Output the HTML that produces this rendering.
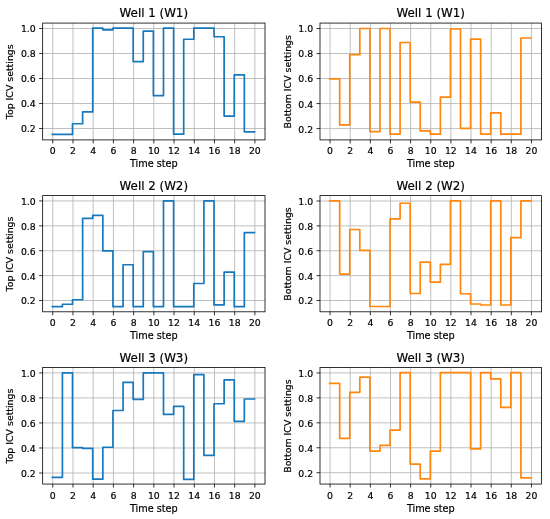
<!DOCTYPE html>
<html><head><meta charset="utf-8"><title>ICV settings</title>
<style>html,body{margin:0;padding:0;background:#fff;} svg{display:block;font-family:'DejaVu Sans', 'Liberation Sans', sans-serif;} text{stroke:#000;stroke-width:0.2px;}</style>
</head><body>
<svg width="550" height="519" viewBox="0 0 550 519"><rect width="550" height="519" fill="#fff"/><g stroke="#b0b0b0" stroke-width="0.8"><line x1="52.76" y1="23.07" x2="52.76" y2="139.9"/><line x1="72.97" y1="23.07" x2="72.97" y2="139.9"/><line x1="93.18" y1="23.07" x2="93.18" y2="139.9"/><line x1="113.4" y1="23.07" x2="113.4" y2="139.9"/><line x1="133.61" y1="23.07" x2="133.61" y2="139.9"/><line x1="153.82" y1="23.07" x2="153.82" y2="139.9"/><line x1="174.04" y1="23.07" x2="174.04" y2="139.9"/><line x1="194.25" y1="23.07" x2="194.25" y2="139.9"/><line x1="214.47" y1="23.07" x2="214.47" y2="139.9"/><line x1="234.68" y1="23.07" x2="234.68" y2="139.9"/><line x1="254.89" y1="23.07" x2="254.89" y2="139.9"/><line x1="42.65" y1="128.5" x2="265" y2="128.5"/><line x1="42.65" y1="103.5" x2="265" y2="103.5"/><line x1="42.65" y1="78.5" x2="265" y2="78.5"/><line x1="42.65" y1="53.5" x2="265" y2="53.5"/><line x1="42.65" y1="28.5" x2="265" y2="28.5"/></g><path d="M52.31,134.45 L62.41,134.45 L62.41,134.45 L72.52,134.45 L72.52,123.73 L82.63,123.73 L82.63,111.88 L92.73,111.88 L92.73,28.05 L102.84,28.05 L102.84,29.81 L112.95,29.81 L112.95,28.05 L123.05,28.05 L123.05,28.05 L133.16,28.05 L133.16,61.58 L143.27,61.58 L143.27,31.08 L153.38,31.08 L153.38,95.62 L163.48,95.62 L163.48,28.05 L173.59,28.05 L173.59,134.19 L183.7,134.19 L183.7,39.27 L193.8,39.27 L193.8,28.05 L203.91,28.05 L203.91,28.05 L214.02,28.05 L214.02,36.75 L224.12,36.75 L224.12,116.04 L234.23,116.04 L234.23,74.82 L244.34,74.82 L244.34,131.8 L254.44,131.8" fill="none" stroke="#1878bd" stroke-width="1.7" stroke-linejoin="round" stroke-linecap="square"/><rect x="42.65" y="23.07" width="222.35" height="116.83" fill="none" stroke="#000" stroke-width="0.8"/><g stroke="#000" stroke-width="0.8"><line x1="52.76" y1="139.9" x2="52.76" y2="143.4"/><line x1="72.97" y1="139.9" x2="72.97" y2="143.4"/><line x1="93.18" y1="139.9" x2="93.18" y2="143.4"/><line x1="113.4" y1="139.9" x2="113.4" y2="143.4"/><line x1="133.61" y1="139.9" x2="133.61" y2="143.4"/><line x1="153.82" y1="139.9" x2="153.82" y2="143.4"/><line x1="174.04" y1="139.9" x2="174.04" y2="143.4"/><line x1="194.25" y1="139.9" x2="194.25" y2="143.4"/><line x1="214.47" y1="139.9" x2="214.47" y2="143.4"/><line x1="234.68" y1="139.9" x2="234.68" y2="143.4"/><line x1="254.89" y1="139.9" x2="254.89" y2="143.4"/><line x1="39.15" y1="128.5" x2="42.65" y2="128.5"/><line x1="39.15" y1="103.5" x2="42.65" y2="103.5"/><line x1="39.15" y1="78.5" x2="42.65" y2="78.5"/><line x1="39.15" y1="53.5" x2="42.65" y2="53.5"/><line x1="39.15" y1="28.5" x2="42.65" y2="28.5"/></g><g font-size="9.3" fill="#000"><text x="52.76" y="154.27" text-anchor="middle">0</text><text x="72.97" y="154.27" text-anchor="middle">2</text><text x="93.18" y="154.27" text-anchor="middle">4</text><text x="113.4" y="154.27" text-anchor="middle">6</text><text x="133.61" y="154.27" text-anchor="middle">8</text><text x="153.82" y="154.27" text-anchor="middle">10</text><text x="174.04" y="154.27" text-anchor="middle">12</text><text x="194.25" y="154.27" text-anchor="middle">14</text><text x="214.47" y="154.27" text-anchor="middle">16</text><text x="234.68" y="154.27" text-anchor="middle">18</text><text x="254.89" y="154.27" text-anchor="middle">20</text><text x="35.75" y="132.44" text-anchor="end">0.2</text><text x="35.75" y="107.44" text-anchor="end">0.4</text><text x="35.75" y="82.44" text-anchor="end">0.6</text><text x="35.75" y="57.44" text-anchor="end">0.8</text><text x="35.75" y="32.44" text-anchor="end">1.0</text></g><text x="153.82" y="17.17" text-anchor="middle" font-size="11.85">Well 1 (W1)</text><text x="153.82" y="166.8" text-anchor="middle" font-size="9.7">Time step</text><text transform="translate(13.15,81.78) rotate(-90)" x="0" y="0" text-anchor="middle" font-size="9.4">Top ICV settings</text><g stroke="#b0b0b0" stroke-width="0.8"><line x1="330.07" y1="23.07" x2="330.07" y2="139.9"/><line x1="350.2" y1="23.07" x2="350.2" y2="139.9"/><line x1="370.34" y1="23.07" x2="370.34" y2="139.9"/><line x1="390.48" y1="23.07" x2="390.48" y2="139.9"/><line x1="410.61" y1="23.07" x2="410.61" y2="139.9"/><line x1="430.75" y1="23.07" x2="430.75" y2="139.9"/><line x1="450.89" y1="23.07" x2="450.89" y2="139.9"/><line x1="471.02" y1="23.07" x2="471.02" y2="139.9"/><line x1="491.16" y1="23.07" x2="491.16" y2="139.9"/><line x1="511.3" y1="23.07" x2="511.3" y2="139.9"/><line x1="531.43" y1="23.07" x2="531.43" y2="139.9"/><line x1="320" y1="128.6" x2="541.5" y2="128.6"/><line x1="320" y1="103.57" x2="541.5" y2="103.57"/><line x1="320" y1="78.55" x2="541.5" y2="78.55"/><line x1="320" y1="53.52" x2="541.5" y2="53.52"/><line x1="320" y1="28.5" x2="541.5" y2="28.5"/></g><path d="M329.62,78.78 L339.69,78.78 L339.69,124.92 L349.75,124.92 L349.75,54.64 L359.82,54.64 L359.82,28.5 L369.89,28.5 L369.89,131.55 L379.96,131.55 L379.96,28.5 L390.03,28.5 L390.03,134.05 L400.1,134.05 L400.1,42.51 L410.16,42.51 L410.16,102.16 L420.23,102.16 L420.23,130.93 L430.3,130.93 L430.3,134.05 L440.37,134.05 L440.37,97.16 L450.44,97.16 L450.44,29 L460.5,29 L460.5,128.3 L470.57,128.3 L470.57,39.13 L480.64,39.13 L480.64,134.05 L490.71,134.05 L490.71,112.79 L500.78,112.79 L500.78,134.05 L510.85,134.05 L510.85,134.05 L520.91,134.05 L520.91,38 L530.98,38" fill="none" stroke="#ff870d" stroke-width="1.7" stroke-linejoin="round" stroke-linecap="square"/><rect x="320" y="23.07" width="221.5" height="116.83" fill="none" stroke="#000" stroke-width="0.8"/><g stroke="#000" stroke-width="0.8"><line x1="330.07" y1="139.9" x2="330.07" y2="143.4"/><line x1="350.2" y1="139.9" x2="350.2" y2="143.4"/><line x1="370.34" y1="139.9" x2="370.34" y2="143.4"/><line x1="390.48" y1="139.9" x2="390.48" y2="143.4"/><line x1="410.61" y1="139.9" x2="410.61" y2="143.4"/><line x1="430.75" y1="139.9" x2="430.75" y2="143.4"/><line x1="450.89" y1="139.9" x2="450.89" y2="143.4"/><line x1="471.02" y1="139.9" x2="471.02" y2="143.4"/><line x1="491.16" y1="139.9" x2="491.16" y2="143.4"/><line x1="511.3" y1="139.9" x2="511.3" y2="143.4"/><line x1="531.43" y1="139.9" x2="531.43" y2="143.4"/><line x1="316.5" y1="128.6" x2="320" y2="128.6"/><line x1="316.5" y1="103.57" x2="320" y2="103.57"/><line x1="316.5" y1="78.55" x2="320" y2="78.55"/><line x1="316.5" y1="53.52" x2="320" y2="53.52"/><line x1="316.5" y1="28.5" x2="320" y2="28.5"/></g><g font-size="9.3" fill="#000"><text x="330.07" y="154.27" text-anchor="middle">0</text><text x="350.2" y="154.27" text-anchor="middle">2</text><text x="370.34" y="154.27" text-anchor="middle">4</text><text x="390.48" y="154.27" text-anchor="middle">6</text><text x="410.61" y="154.27" text-anchor="middle">8</text><text x="430.75" y="154.27" text-anchor="middle">10</text><text x="450.89" y="154.27" text-anchor="middle">12</text><text x="471.02" y="154.27" text-anchor="middle">14</text><text x="491.16" y="154.27" text-anchor="middle">16</text><text x="511.3" y="154.27" text-anchor="middle">18</text><text x="531.43" y="154.27" text-anchor="middle">20</text><text x="313.1" y="132.54" text-anchor="end">0.2</text><text x="313.1" y="107.51" text-anchor="end">0.4</text><text x="313.1" y="82.49" text-anchor="end">0.6</text><text x="313.1" y="57.46" text-anchor="end">0.8</text><text x="313.1" y="32.44" text-anchor="end">1.0</text></g><text x="430.75" y="17.17" text-anchor="middle" font-size="11.85">Well 1 (W1)</text><text x="430.75" y="166.8" text-anchor="middle" font-size="9.7">Time step</text><text transform="translate(290.5,81.78) rotate(-90)" x="0" y="0" text-anchor="middle" font-size="9.4">Bottom ICV settings</text><g stroke="#b0b0b0" stroke-width="0.8"><line x1="52.76" y1="195.6" x2="52.76" y2="311.8"/><line x1="72.97" y1="195.6" x2="72.97" y2="311.8"/><line x1="93.18" y1="195.6" x2="93.18" y2="311.8"/><line x1="113.4" y1="195.6" x2="113.4" y2="311.8"/><line x1="133.61" y1="195.6" x2="133.61" y2="311.8"/><line x1="153.82" y1="195.6" x2="153.82" y2="311.8"/><line x1="174.04" y1="195.6" x2="174.04" y2="311.8"/><line x1="194.25" y1="195.6" x2="194.25" y2="311.8"/><line x1="214.47" y1="195.6" x2="214.47" y2="311.8"/><line x1="234.68" y1="195.6" x2="234.68" y2="311.8"/><line x1="254.89" y1="195.6" x2="254.89" y2="311.8"/><line x1="42.65" y1="300.5" x2="265" y2="300.5"/><line x1="42.65" y1="275.61" x2="265" y2="275.61"/><line x1="42.65" y1="250.72" x2="265" y2="250.72"/><line x1="42.65" y1="225.84" x2="265" y2="225.84"/><line x1="42.65" y1="200.95" x2="265" y2="200.95"/></g><path d="M52.31,306.63 L62.41,306.63 L62.41,304.25 L72.52,304.25 L72.52,299.75 L82.63,299.75 L82.63,218.33 L92.73,218.33 L92.73,215.46 L102.84,215.46 L102.84,250.97 L112.95,250.97 L112.95,306.63 L123.05,306.63 L123.05,264.73 L133.16,264.73 L133.16,306.63 L143.27,306.63 L143.27,251.6 L153.38,251.6 L153.38,306.63 L163.48,306.63 L163.48,200.95 L173.59,200.95 L173.59,306.63 L183.7,306.63 L183.7,306.63 L193.8,306.63 L193.8,283.49 L203.91,283.49 L203.91,200.95 L214.02,200.95 L214.02,304.88 L224.12,304.88 L224.12,272.11 L234.23,272.11 L234.23,306.63 L244.34,306.63 L244.34,232.59 L254.44,232.59" fill="none" stroke="#1878bd" stroke-width="1.7" stroke-linejoin="round" stroke-linecap="square"/><rect x="42.65" y="195.6" width="222.35" height="116.2" fill="none" stroke="#000" stroke-width="0.8"/><g stroke="#000" stroke-width="0.8"><line x1="52.76" y1="311.8" x2="52.76" y2="315.3"/><line x1="72.97" y1="311.8" x2="72.97" y2="315.3"/><line x1="93.18" y1="311.8" x2="93.18" y2="315.3"/><line x1="113.4" y1="311.8" x2="113.4" y2="315.3"/><line x1="133.61" y1="311.8" x2="133.61" y2="315.3"/><line x1="153.82" y1="311.8" x2="153.82" y2="315.3"/><line x1="174.04" y1="311.8" x2="174.04" y2="315.3"/><line x1="194.25" y1="311.8" x2="194.25" y2="315.3"/><line x1="214.47" y1="311.8" x2="214.47" y2="315.3"/><line x1="234.68" y1="311.8" x2="234.68" y2="315.3"/><line x1="254.89" y1="311.8" x2="254.89" y2="315.3"/><line x1="39.15" y1="300.5" x2="42.65" y2="300.5"/><line x1="39.15" y1="275.61" x2="42.65" y2="275.61"/><line x1="39.15" y1="250.72" x2="42.65" y2="250.72"/><line x1="39.15" y1="225.84" x2="42.65" y2="225.84"/><line x1="39.15" y1="200.95" x2="42.65" y2="200.95"/></g><g font-size="9.3" fill="#000"><text x="52.76" y="326.17" text-anchor="middle">0</text><text x="72.97" y="326.17" text-anchor="middle">2</text><text x="93.18" y="326.17" text-anchor="middle">4</text><text x="113.4" y="326.17" text-anchor="middle">6</text><text x="133.61" y="326.17" text-anchor="middle">8</text><text x="153.82" y="326.17" text-anchor="middle">10</text><text x="174.04" y="326.17" text-anchor="middle">12</text><text x="194.25" y="326.17" text-anchor="middle">14</text><text x="214.47" y="326.17" text-anchor="middle">16</text><text x="234.68" y="326.17" text-anchor="middle">18</text><text x="254.89" y="326.17" text-anchor="middle">20</text><text x="35.75" y="304.44" text-anchor="end">0.2</text><text x="35.75" y="279.55" text-anchor="end">0.4</text><text x="35.75" y="254.66" text-anchor="end">0.6</text><text x="35.75" y="229.78" text-anchor="end">0.8</text><text x="35.75" y="204.89" text-anchor="end">1.0</text></g><text x="153.82" y="189.7" text-anchor="middle" font-size="11.85">Well 2 (W2)</text><text x="153.82" y="338.7" text-anchor="middle" font-size="9.7">Time step</text><text transform="translate(13.15,254) rotate(-90)" x="0" y="0" text-anchor="middle" font-size="9.4">Top ICV settings</text><g stroke="#b0b0b0" stroke-width="0.8"><line x1="330.07" y1="195.6" x2="330.07" y2="311.8"/><line x1="350.2" y1="195.6" x2="350.2" y2="311.8"/><line x1="370.34" y1="195.6" x2="370.34" y2="311.8"/><line x1="390.48" y1="195.6" x2="390.48" y2="311.8"/><line x1="410.61" y1="195.6" x2="410.61" y2="311.8"/><line x1="430.75" y1="195.6" x2="430.75" y2="311.8"/><line x1="450.89" y1="195.6" x2="450.89" y2="311.8"/><line x1="471.02" y1="195.6" x2="471.02" y2="311.8"/><line x1="491.16" y1="195.6" x2="491.16" y2="311.8"/><line x1="511.3" y1="195.6" x2="511.3" y2="311.8"/><line x1="531.43" y1="195.6" x2="531.43" y2="311.8"/><line x1="320" y1="300.5" x2="541.5" y2="300.5"/><line x1="320" y1="275.62" x2="541.5" y2="275.62"/><line x1="320" y1="250.75" x2="541.5" y2="250.75"/><line x1="320" y1="225.88" x2="541.5" y2="225.88"/><line x1="320" y1="201" x2="541.5" y2="201"/></g><path d="M329.62,200.9 L339.69,200.9 L339.69,274.04 L349.75,274.04 L349.75,229.48 L359.82,229.48 L359.82,250.45 L369.89,250.45 L369.89,306.49 L379.96,306.49 L379.96,306.49 L390.03,306.49 L390.03,218.87 L400.1,218.87 L400.1,203.27 L410.16,203.27 L410.16,293.51 L420.23,293.51 L420.23,262.18 L430.3,262.18 L430.3,282.15 L440.37,282.15 L440.37,264.43 L450.44,264.43 L450.44,200.9 L460.5,200.9 L460.5,293.76 L470.57,293.76 L470.57,304 L480.64,304 L480.64,304.99 L490.71,304.99 L490.71,200.9 L500.78,200.9 L500.78,304.99 L510.85,304.99 L510.85,237.59 L520.91,237.59 L520.91,200.9 L530.98,200.9" fill="none" stroke="#ff870d" stroke-width="1.7" stroke-linejoin="round" stroke-linecap="square"/><rect x="320" y="195.6" width="221.5" height="116.2" fill="none" stroke="#000" stroke-width="0.8"/><g stroke="#000" stroke-width="0.8"><line x1="330.07" y1="311.8" x2="330.07" y2="315.3"/><line x1="350.2" y1="311.8" x2="350.2" y2="315.3"/><line x1="370.34" y1="311.8" x2="370.34" y2="315.3"/><line x1="390.48" y1="311.8" x2="390.48" y2="315.3"/><line x1="410.61" y1="311.8" x2="410.61" y2="315.3"/><line x1="430.75" y1="311.8" x2="430.75" y2="315.3"/><line x1="450.89" y1="311.8" x2="450.89" y2="315.3"/><line x1="471.02" y1="311.8" x2="471.02" y2="315.3"/><line x1="491.16" y1="311.8" x2="491.16" y2="315.3"/><line x1="511.3" y1="311.8" x2="511.3" y2="315.3"/><line x1="531.43" y1="311.8" x2="531.43" y2="315.3"/><line x1="316.5" y1="300.5" x2="320" y2="300.5"/><line x1="316.5" y1="275.62" x2="320" y2="275.62"/><line x1="316.5" y1="250.75" x2="320" y2="250.75"/><line x1="316.5" y1="225.88" x2="320" y2="225.88"/><line x1="316.5" y1="201" x2="320" y2="201"/></g><g font-size="9.3" fill="#000"><text x="330.07" y="326.17" text-anchor="middle">0</text><text x="350.2" y="326.17" text-anchor="middle">2</text><text x="370.34" y="326.17" text-anchor="middle">4</text><text x="390.48" y="326.17" text-anchor="middle">6</text><text x="410.61" y="326.17" text-anchor="middle">8</text><text x="430.75" y="326.17" text-anchor="middle">10</text><text x="450.89" y="326.17" text-anchor="middle">12</text><text x="471.02" y="326.17" text-anchor="middle">14</text><text x="491.16" y="326.17" text-anchor="middle">16</text><text x="511.3" y="326.17" text-anchor="middle">18</text><text x="531.43" y="326.17" text-anchor="middle">20</text><text x="313.1" y="304.44" text-anchor="end">0.2</text><text x="313.1" y="279.56" text-anchor="end">0.4</text><text x="313.1" y="254.69" text-anchor="end">0.6</text><text x="313.1" y="229.81" text-anchor="end">0.8</text><text x="313.1" y="204.94" text-anchor="end">1.0</text></g><text x="430.75" y="189.7" text-anchor="middle" font-size="11.85">Well 2 (W2)</text><text x="430.75" y="338.7" text-anchor="middle" font-size="9.7">Time step</text><text transform="translate(290.5,254) rotate(-90)" x="0" y="0" text-anchor="middle" font-size="9.4">Bottom ICV settings</text><g stroke="#b0b0b0" stroke-width="0.8"><line x1="52.76" y1="367.47" x2="52.76" y2="484.05"/><line x1="72.97" y1="367.47" x2="72.97" y2="484.05"/><line x1="93.18" y1="367.47" x2="93.18" y2="484.05"/><line x1="113.4" y1="367.47" x2="113.4" y2="484.05"/><line x1="133.61" y1="367.47" x2="133.61" y2="484.05"/><line x1="153.82" y1="367.47" x2="153.82" y2="484.05"/><line x1="174.04" y1="367.47" x2="174.04" y2="484.05"/><line x1="194.25" y1="367.47" x2="194.25" y2="484.05"/><line x1="214.47" y1="367.47" x2="214.47" y2="484.05"/><line x1="234.68" y1="367.47" x2="234.68" y2="484.05"/><line x1="254.89" y1="367.47" x2="254.89" y2="484.05"/><line x1="42.65" y1="473" x2="265" y2="473"/><line x1="42.65" y1="447.98" x2="265" y2="447.98"/><line x1="42.65" y1="422.95" x2="265" y2="422.95"/><line x1="42.65" y1="397.92" x2="265" y2="397.92"/><line x1="42.65" y1="372.9" x2="265" y2="372.9"/></g><path d="M52.31,477.34 L62.41,477.34 L62.41,372.9 L72.52,372.9 L72.52,447.62 L82.63,447.62 L82.63,448.38 L92.73,448.38 L92.73,479.22 L102.84,479.22 L102.84,447.25 L112.95,447.25 L112.95,410.51 L123.05,410.51 L123.05,382.3 L133.16,382.3 L133.16,399.35 L143.27,399.35 L143.27,372.9 L153.38,372.9 L153.38,372.9 L163.48,372.9 L163.48,414.4 L173.59,414.4 L173.59,406.38 L183.7,406.38 L183.7,479.47 L193.8,479.47 L193.8,374.66 L203.91,374.66 L203.91,455.4 L214.02,455.4 L214.02,403.74 L224.12,403.74 L224.12,379.92 L234.23,379.92 L234.23,421.29 L244.34,421.29 L244.34,398.98 L254.44,398.98" fill="none" stroke="#1878bd" stroke-width="1.7" stroke-linejoin="round" stroke-linecap="square"/><rect x="42.65" y="367.47" width="222.35" height="116.58" fill="none" stroke="#000" stroke-width="0.8"/><g stroke="#000" stroke-width="0.8"><line x1="52.76" y1="484.05" x2="52.76" y2="487.55"/><line x1="72.97" y1="484.05" x2="72.97" y2="487.55"/><line x1="93.18" y1="484.05" x2="93.18" y2="487.55"/><line x1="113.4" y1="484.05" x2="113.4" y2="487.55"/><line x1="133.61" y1="484.05" x2="133.61" y2="487.55"/><line x1="153.82" y1="484.05" x2="153.82" y2="487.55"/><line x1="174.04" y1="484.05" x2="174.04" y2="487.55"/><line x1="194.25" y1="484.05" x2="194.25" y2="487.55"/><line x1="214.47" y1="484.05" x2="214.47" y2="487.55"/><line x1="234.68" y1="484.05" x2="234.68" y2="487.55"/><line x1="254.89" y1="484.05" x2="254.89" y2="487.55"/><line x1="39.15" y1="473" x2="42.65" y2="473"/><line x1="39.15" y1="447.98" x2="42.65" y2="447.98"/><line x1="39.15" y1="422.95" x2="42.65" y2="422.95"/><line x1="39.15" y1="397.92" x2="42.65" y2="397.92"/><line x1="39.15" y1="372.9" x2="42.65" y2="372.9"/></g><g font-size="9.3" fill="#000"><text x="52.76" y="499.12" text-anchor="middle">0</text><text x="72.97" y="499.12" text-anchor="middle">2</text><text x="93.18" y="499.12" text-anchor="middle">4</text><text x="113.4" y="499.12" text-anchor="middle">6</text><text x="133.61" y="499.12" text-anchor="middle">8</text><text x="153.82" y="499.12" text-anchor="middle">10</text><text x="174.04" y="499.12" text-anchor="middle">12</text><text x="194.25" y="499.12" text-anchor="middle">14</text><text x="214.47" y="499.12" text-anchor="middle">16</text><text x="234.68" y="499.12" text-anchor="middle">18</text><text x="254.89" y="499.12" text-anchor="middle">20</text><text x="35.75" y="476.94" text-anchor="end">0.2</text><text x="35.75" y="451.91" text-anchor="end">0.4</text><text x="35.75" y="426.89" text-anchor="end">0.6</text><text x="35.75" y="401.86" text-anchor="end">0.8</text><text x="35.75" y="376.84" text-anchor="end">1.0</text></g><text x="153.82" y="361.57" text-anchor="middle" font-size="11.85">Well 3 (W3)</text><text x="153.82" y="511.86" text-anchor="middle" font-size="9.7">Time step</text><text transform="translate(13.15,426.06) rotate(-90)" x="0" y="0" text-anchor="middle" font-size="9.4">Top ICV settings</text><g stroke="#b0b0b0" stroke-width="0.8"><line x1="330.07" y1="367.47" x2="330.07" y2="484.05"/><line x1="350.2" y1="367.47" x2="350.2" y2="484.05"/><line x1="370.34" y1="367.47" x2="370.34" y2="484.05"/><line x1="390.48" y1="367.47" x2="390.48" y2="484.05"/><line x1="410.61" y1="367.47" x2="410.61" y2="484.05"/><line x1="430.75" y1="367.47" x2="430.75" y2="484.05"/><line x1="450.89" y1="367.47" x2="450.89" y2="484.05"/><line x1="471.02" y1="367.47" x2="471.02" y2="484.05"/><line x1="491.16" y1="367.47" x2="491.16" y2="484.05"/><line x1="511.3" y1="367.47" x2="511.3" y2="484.05"/><line x1="531.43" y1="367.47" x2="531.43" y2="484.05"/><line x1="320" y1="472.7" x2="541.5" y2="472.7"/><line x1="320" y1="447.76" x2="541.5" y2="447.76"/><line x1="320" y1="422.82" x2="541.5" y2="422.82"/><line x1="320" y1="397.89" x2="541.5" y2="397.89"/><line x1="320" y1="372.95" x2="541.5" y2="372.95"/></g><path d="M329.62,383.28 L339.69,383.28 L339.69,438.31 L349.75,438.31 L349.75,392.28 L359.82,392.28 L359.82,377.03 L369.89,377.03 L369.89,451.06 L379.96,451.06 L379.96,445.44 L390.03,445.44 L390.03,430.05 L400.1,430.05 L400.1,372.65 L410.16,372.65 L410.16,464.07 L420.23,464.07 L420.23,478.95 L430.3,478.95 L430.3,451.06 L440.37,451.06 L440.37,372.65 L450.44,372.65 L450.44,372.65 L460.5,372.65 L460.5,372.65 L470.57,372.65 L470.57,448.94 L480.64,448.94 L480.64,372.65 L490.71,372.65 L490.71,378.9 L500.78,378.9 L500.78,407.29 L510.85,407.29 L510.85,372.65 L520.91,372.65 L520.91,477.83 L530.98,477.83" fill="none" stroke="#ff870d" stroke-width="1.7" stroke-linejoin="round" stroke-linecap="square"/><rect x="320" y="367.47" width="221.5" height="116.58" fill="none" stroke="#000" stroke-width="0.8"/><g stroke="#000" stroke-width="0.8"><line x1="330.07" y1="484.05" x2="330.07" y2="487.55"/><line x1="350.2" y1="484.05" x2="350.2" y2="487.55"/><line x1="370.34" y1="484.05" x2="370.34" y2="487.55"/><line x1="390.48" y1="484.05" x2="390.48" y2="487.55"/><line x1="410.61" y1="484.05" x2="410.61" y2="487.55"/><line x1="430.75" y1="484.05" x2="430.75" y2="487.55"/><line x1="450.89" y1="484.05" x2="450.89" y2="487.55"/><line x1="471.02" y1="484.05" x2="471.02" y2="487.55"/><line x1="491.16" y1="484.05" x2="491.16" y2="487.55"/><line x1="511.3" y1="484.05" x2="511.3" y2="487.55"/><line x1="531.43" y1="484.05" x2="531.43" y2="487.55"/><line x1="316.5" y1="472.7" x2="320" y2="472.7"/><line x1="316.5" y1="447.76" x2="320" y2="447.76"/><line x1="316.5" y1="422.82" x2="320" y2="422.82"/><line x1="316.5" y1="397.89" x2="320" y2="397.89"/><line x1="316.5" y1="372.95" x2="320" y2="372.95"/></g><g font-size="9.3" fill="#000"><text x="330.07" y="499.12" text-anchor="middle">0</text><text x="350.2" y="499.12" text-anchor="middle">2</text><text x="370.34" y="499.12" text-anchor="middle">4</text><text x="390.48" y="499.12" text-anchor="middle">6</text><text x="410.61" y="499.12" text-anchor="middle">8</text><text x="430.75" y="499.12" text-anchor="middle">10</text><text x="450.89" y="499.12" text-anchor="middle">12</text><text x="471.02" y="499.12" text-anchor="middle">14</text><text x="491.16" y="499.12" text-anchor="middle">16</text><text x="511.3" y="499.12" text-anchor="middle">18</text><text x="531.43" y="499.12" text-anchor="middle">20</text><text x="313.1" y="476.64" text-anchor="end">0.2</text><text x="313.1" y="451.7" text-anchor="end">0.4</text><text x="313.1" y="426.76" text-anchor="end">0.6</text><text x="313.1" y="401.83" text-anchor="end">0.8</text><text x="313.1" y="376.89" text-anchor="end">1.0</text></g><text x="430.75" y="361.57" text-anchor="middle" font-size="11.85">Well 3 (W3)</text><text x="430.75" y="511.86" text-anchor="middle" font-size="9.7">Time step</text><text transform="translate(290.5,426.06) rotate(-90)" x="0" y="0" text-anchor="middle" font-size="9.4">Bottom ICV settings</text></svg>
</body></html>
